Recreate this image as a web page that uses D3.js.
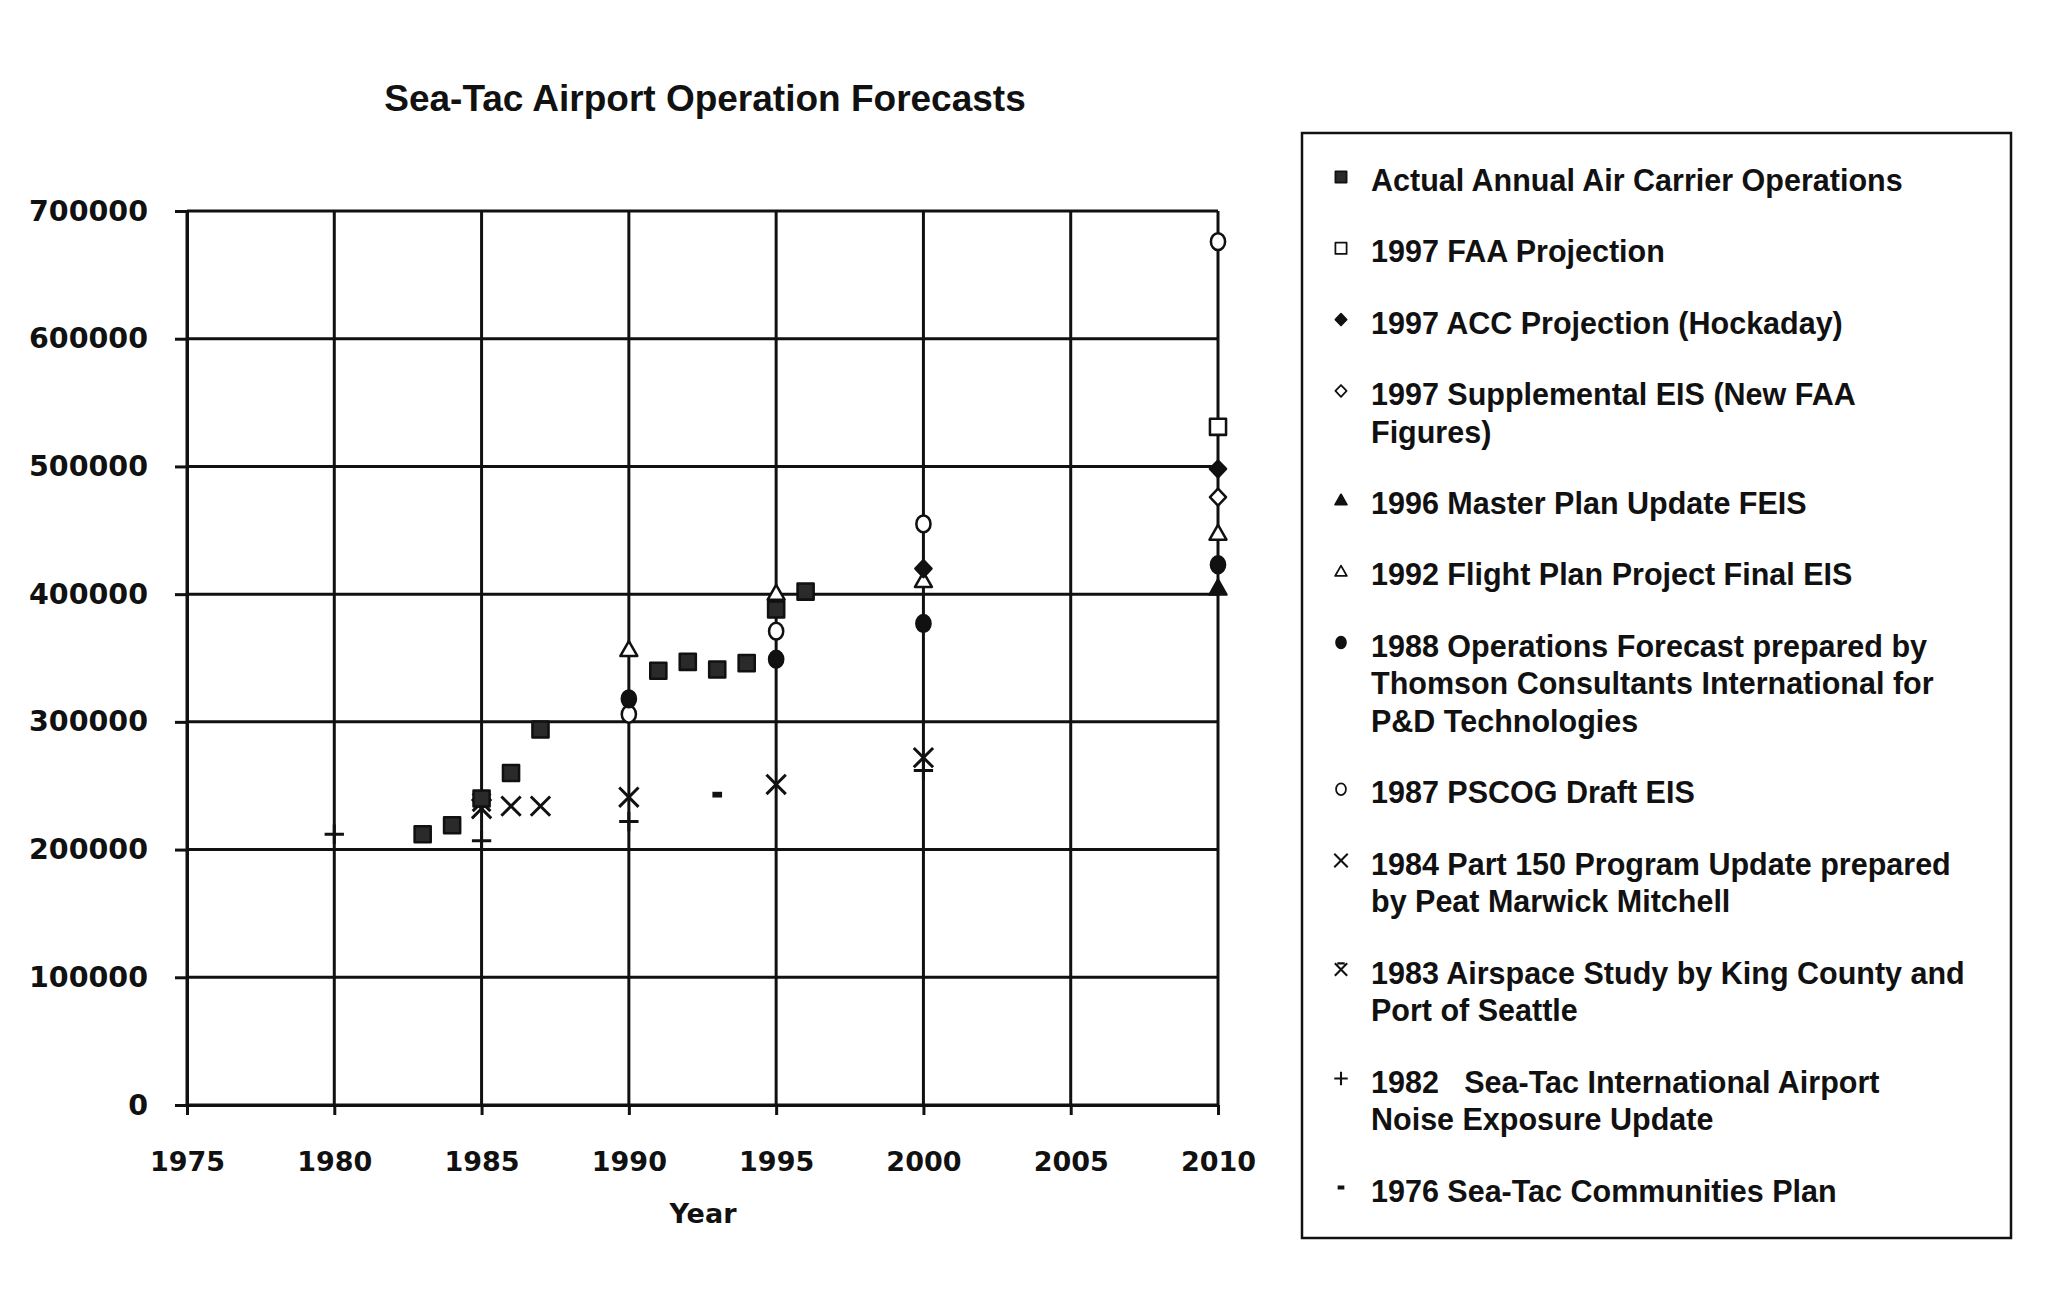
<!DOCTYPE html>
<html>
<head>
<meta charset="utf-8">
<script src="https://cdn.jsdelivr.net/npm/d3@7"></script>
<style>
  body { margin: 0; background: #fff; }
  svg { display: block; background: #fff; }
  .tick line, .domain { stroke: #111; }
  .ticklab text { font-family: "DejaVu Sans", sans-serif; font-weight: bold; fill: #111; }
  .legend text { font-family: "Liberation Sans", Arial, sans-serif; font-weight: bold; fill: #111; white-space: pre; }
</style>
</head>
<body>
<svg width="2048" height="1315"></svg>
<script>
// ---- data ----
var xTicks = [1975, 1980, 1985, 1990, 1995, 2000, 2005, 2010];
var yTicks = [0, 100000, 200000, 300000, 400000, 500000, 600000, 700000];

var actualOps = [[1983, 212000], [1984, 219000], [1985, 240000], [1986, 260000], [1987, 294000],
                 [1991, 340000], [1992, 347000], [1993, 341000], [1994, 346000], [1995, 388000], [1996, 402000]];
var faa1997 = [[2010, 531000]];
var acc1997 = [[2000, 420000], [2010, 498000]];
var suppEis1997 = [[2010, 476000]];
var masterPlan1996 = [[2010, 405000]];
var flightPlan1992 = [[1990, 357000], [1995, 401000], [2000, 411000], [2010, 448000]];
var opsForecast1988 = [[1990, 318000], [1995, 349000], [2000, 377000], [2010, 423000]];
var pscog1987 = [[1990, 306000], [1995, 371000], [2000, 455000], [2010, 676000]];
var part150_1984 = [[1985, 232000], [1986, 234000], [1987, 234000], [1990, 241000], [1995, 251000], [2000, 272000]];
var airspace1983 = [[1985, 237000]];
var noise1982 = [[1980, 212000], [1985, 207000], [1990, 222000], [2000, 262000]];
var communities1976 = [[1993, 243000]];

var legendLabels = [
  ["Actual Annual Air Carrier Operations"],
  ["1997 FAA Projection"],
  ["1997 ACC Projection (Hockaday)"],
  ["1997 Supplemental EIS (New FAA", "Figures)"],
  ["1996 Master Plan Update FEIS"],
  ["1992 Flight Plan Project Final EIS"],
  ["1988 Operations Forecast prepared by", "Thomson Consultants International for", "P&D Technologies"],
  ["1987 PSCOG Draft EIS"],
  ["1984 Part 150 Program Update prepared", "by Peat Marwick Mitchell"],
  ["1983 Airspace Study by King County and", "Port of Seattle"],
  ["1982   Sea-Tac International Airport", "Noise Exposure Update"],
  ["1976 Sea-Tac Communities Plan"]
];

var seriesData = [actualOps, faa1997, acc1997, suppEis1997, masterPlan1996, flightPlan1992,
                  opsForecast1988, pscog1987, part150_1984, airspace1983, noise1982, communities1976];
var markerKinds = ["square", "openSquare", "diamond", "openDiamond", "triangle", "openTriangle",
                   "circle", "openCircle", "x", "asterisk", "plus", "dash"];

// ---- layout ----
var svg = d3.select("svg");
var x = d3.scaleLinear().domain([1975, 2010]).range([187, 1218]);
var y = d3.scaleLinear().domain([0, 700000]).range([1105, 211]);

function markerPath(kind, k) {
  var s = 7 * k;
  switch (kind) {
    case "square": case "openSquare":
      return "M" + (-s) + "," + (-s) + "h" + 2 * s + "v" + 2 * s + "h" + (-2 * s) + "Z";
    case "diamond": case "openDiamond":
      return "M0," + (-s * 1.05) + "L" + s + ",0L0," + s * 1.05 + "L" + (-s) + ",0Z";
    case "triangle": case "openTriangle":
      return "M0," + (-s) + "L" + s * 1.05 + "," + s * 0.85 + "L" + (-s * 1.05) + "," + s * 0.85 + "Z";
    case "circle": case "openCircle":
      var rx = s * 0.88, ry = s * 1.05;
      return "M0," + (-ry) + "A" + rx + "," + ry + " 0 1,1 0," + ry + "A" + rx + "," + ry + " 0 1,1 0," + (-ry) + "Z";
    case "x":
      var a = s * 1.2;
      return "M" + (-a) + "," + (-a) + "L" + a + "," + a + "M" + a + "," + (-a) + "L" + (-a) + "," + a;
    case "asterisk":
      var b = s * 1.1;
      return "M" + (-b) + "," + (-b) + "L" + b + "," + b + "M" + b + "," + (-b) + "L" + (-b) + "," + b +
             "M" + (-b * 0.6) + "," + (-b) + "H" + b * 0.6;
    case "plus":
      var c = s * 1.2;
      return "M" + (-c) + ",0H" + c + "M0," + (-c) + "V" + c;
    case "dash":
      return "M" + (-s * 0.6) + ",0H" + s * 0.6;
  }
}

function styleMarker(sel, kind, k) {
  var open = kind.indexOf("open") === 0;
  var stroked = kind === "x" || kind === "asterisk" || kind === "plus" || kind === "dash";
  sel.attr("d", markerPath(kind, k))
     .attr("fill", stroked ? "none" : (open ? "#fff" : (kind === "square" ? "#2a2a2a" : "#111")))
     .attr("stroke", "#111")
     .attr("stroke-width", kind === "dash" ? 5 * k : (stroked ? 2.6 * k : 2.2 * k))
     .attr("stroke-linejoin", "round");
}

// title
svg.append("text")
    .attr("x", 705).attr("y", 111)
    .attr("text-anchor", "middle")
    .style("font-family", "'Liberation Sans', Arial, sans-serif")
    .style("font-weight", "bold")
    .style("font-size", "37px")
    .style("fill", "#111")
    .text("Sea-Tac Airport Operation Forecasts");

// grid
var grid = svg.append("g").attr("stroke", "#111").attr("stroke-width", 3);
grid.selectAll("line.h").data(yTicks).enter().append("line")
    .attr("x1", x(1975)).attr("x2", x(2010))
    .attr("y1", function(d) { return y(d); }).attr("y2", function(d) { return y(d); });
grid.selectAll("line.v").data(xTicks).enter().append("line")
    .attr("y1", y(0)).attr("y2", y(700000))
    .attr("x1", function(d) { return x(d); }).attr("x2", function(d) { return x(d); });

// axes
var yAxis = svg.append("g").attr("class", "ticklab")
    .attr("transform", "translate(" + x(1975) + ",0)")
    .call(d3.axisLeft(y).tickValues(yTicks).tickFormat(d3.format("d")).tickSize(12).tickPadding(27).tickSizeOuter(0));
yAxis.selectAll("text").style("font-size", "28.5px");
yAxis.selectAll("line, path").attr("stroke-width", 3);

var xAxis = svg.append("g").attr("class", "ticklab")
    .attr("transform", "translate(0," + y(0) + ")")
    .call(d3.axisBottom(x).tickValues(xTicks).tickFormat(d3.format("d")).tickSize(10).tickPadding(37).tickSizeOuter(0));
xAxis.selectAll("text").style("font-size", "27px");
xAxis.selectAll("line, path").attr("stroke-width", 3);

svg.append("text")
    .attr("x", 703).attr("y", 1223)
    .attr("text-anchor", "middle")
    .style("font-family", "'DejaVu Sans', sans-serif")
    .style("font-weight", "bold")
    .style("font-size", "27px")
    .style("fill", "#111")
    .text("Year");

// points (last series first so the actual squares sit on top)
for (var i = seriesData.length - 1; i >= 0; i--) {
  var kind = markerKinds[i];
  svg.append("g").selectAll("path")
      .data(seriesData[i])
      .enter().append("path")
      .attr("transform", function(d) { return "translate(" + x(d[0]) + "," + y(d[1]) + ")"; })
      .each(function() { styleMarker(d3.select(this), kind, 1.15); });
}

// legend
var legend = svg.append("g").attr("class", "legend");
legend.append("rect")
    .attr("x", 1302).attr("y", 133).attr("width", 709).attr("height", 1105)
    .attr("fill", "none").attr("stroke", "#111").attr("stroke-width", 2.5);

var lineH = 37.7, gap = 33.6, ly = 180;
legendLabels.forEach(function(lines, i) {
  var item = legend.append("g");
  item.append("path")
      .attr("transform", "translate(1341," + (ly - 3) + ")")
      .each(function() { styleMarker(d3.select(this), markerKinds[i], 0.8); });
  lines.forEach(function(t, j) {
    item.append("text")
        .attr("x", 1371).attr("y", ly + j * lineH + 11)
        .style("font-size", "30.5px")
        .text(t);
  });
  ly += lines.length * lineH + gap;
});
</script>
</body>
</html>
